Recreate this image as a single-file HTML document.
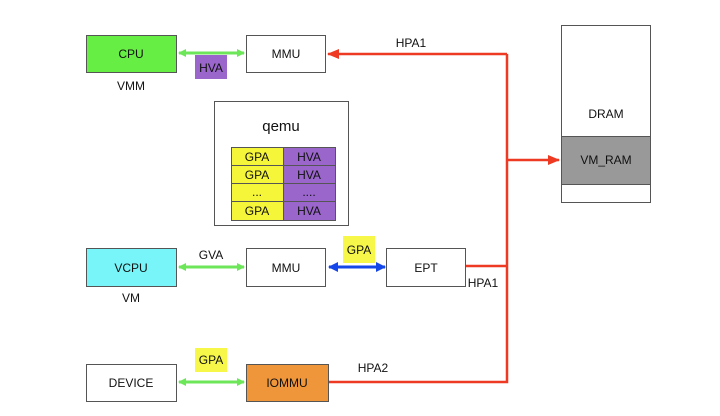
<!DOCTYPE html>
<html><head><style>
body{margin:0;background:#fff;}
svg text{font-family:"Liberation Sans",sans-serif;font-size:12px;fill:#111;}
</style></head><body>
<svg width="720" height="411" viewBox="0 0 720 411" xmlns="http://www.w3.org/2000/svg">
<defs>
<marker id="g" markerWidth="8" markerHeight="8" refX="7" refY="4" orient="auto-start-reverse" markerUnits="userSpaceOnUse"><path d="M0,0 L8,4 L0,8z" fill="#6ee65a"/></marker>
<marker id="b" markerWidth="10" markerHeight="10" refX="9" refY="5" orient="auto-start-reverse" markerUnits="userSpaceOnUse"><path d="M0,0 L10,5 L0,10z" fill="#1446e8"/></marker>
<marker id="r" markerWidth="12" markerHeight="10" refX="11" refY="5" orient="auto" markerUnits="userSpaceOnUse"><path d="M0,0 L12,5 L0,10z" fill="#ee3a22"/></marker>
</defs>
<g stroke="#555" stroke-width="1">
<rect x="86.5" y="35.5" width="90" height="37" fill="#66ee44"/>
<rect x="246.5" y="35.5" width="79" height="37" fill="#fff"/>
<rect x="214.5" y="101.5" width="134" height="124" fill="#fff"/>
<rect x="561.5" y="25.5" width="89" height="177" fill="#fff"/>
<rect x="561.5" y="136.5" width="89" height="48" fill="#999"/>
<rect x="86.5" y="248.5" width="90" height="38" fill="#77f5f8"/>
<rect x="246.5" y="248.5" width="79" height="38" fill="#fff"/>
<rect x="386.5" y="248.5" width="79" height="38" fill="#fff"/>
<rect x="86.5" y="364.5" width="90" height="37" fill="#fff"/>
<rect x="246.5" y="364.5" width="82" height="37" fill="#f0963a"/>
<rect x="231.5" y="147.5" width="52" height="18" fill="#f5f53a"/>
<rect x="283.5" y="147.5" width="52" height="18" fill="#9a66cc"/>
<rect x="231.5" y="165.5" width="52" height="18" fill="#f5f53a"/>
<rect x="283.5" y="165.5" width="52" height="18" fill="#9a66cc"/>
<rect x="231.5" y="183.5" width="52" height="18" fill="#f5f53a"/>
<rect x="283.5" y="183.5" width="52" height="18" fill="#9a66cc"/>
<rect x="231.5" y="201.5" width="52" height="19" fill="#f5f53a"/>
<rect x="283.5" y="201.5" width="52" height="19" fill="#9a66cc"/>
</g>
<rect x="195" y="55" width="32" height="24" fill="#9a66cc"/>
<rect x="343" y="236" width="32" height="27" fill="#f7f74a"/>
<rect x="195" y="348" width="32" height="24" fill="#f7f74a"/>
<g stroke-width="3" fill="none">
<line x1="179" y1="53" x2="244" y2="53" stroke="#6ee65a" marker-start="url(#g)" marker-end="url(#g)"/>
<line x1="179" y1="267" x2="244" y2="267" stroke="#6ee65a" marker-start="url(#g)" marker-end="url(#g)"/>
<line x1="179" y1="382" x2="244" y2="382" stroke="#6ee65a" marker-start="url(#g)" marker-end="url(#g)"/>
<line x1="329" y1="267" x2="385" y2="267" stroke="#1446e8" marker-start="url(#b)" marker-end="url(#b)"/>
</g>
<g stroke="#ee3a22" stroke-width="2.5" fill="none">
<polyline points="507,54 507,382 329,382"/>
<line x1="466" y1="266" x2="507" y2="266"/>
<line x1="507" y1="54" x2="328" y2="54" marker-end="url(#r)"/>
<line x1="507" y1="160" x2="559" y2="160" marker-end="url(#r)"/>
</g>
<g text-anchor="middle">
<text x="131" y="58">CPU</text>
<text x="131" y="90">VMM</text>
<text x="211" y="72" fill="#fff">HVA</text>
<text x="286" y="58">MMU</text>
<text x="411" y="47">HPA1</text>
<text x="281" y="131" style="font-size:15px">qemu</text>
<text x="257" y="161">GPA</text><text x="309" y="161">HVA</text>
<text x="257" y="179">GPA</text><text x="309" y="179">HVA</text>
<text x="257" y="196">...</text><text x="309" y="196">....</text>
<text x="257" y="215">GPA</text><text x="309" y="215">HVA</text>
<text x="606" y="118">DRAM</text>
<text x="606" y="164">VM_RAM</text>
<text x="131" y="272">VCPU</text>
<text x="131" y="302">VM</text>
<text x="211" y="259">GVA</text>
<text x="286" y="272">MMU</text>
<text x="359" y="254">GPA</text>
<text x="426" y="272">EPT</text>
<text x="483" y="287">HPA1</text>
<text x="131" y="387">DEVICE</text>
<text x="211" y="364">GPA</text>
<text x="287" y="387">IOMMU</text>
<text x="373" y="372">HPA2</text>
</g>
</svg>
</body></html>
